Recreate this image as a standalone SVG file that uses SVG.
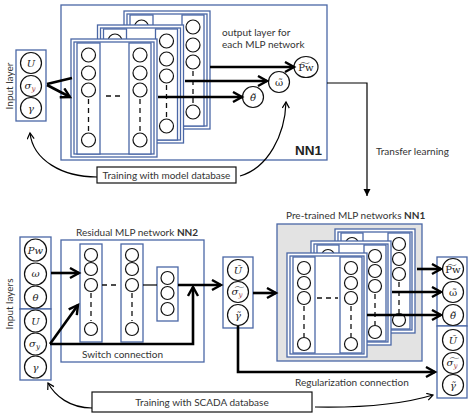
<svg xmlns="http://www.w3.org/2000/svg" xmlns:xlink="http://www.w3.org/1999/xlink" width="474" height="417" viewBox="0 0 474 417">
<style>
.bx{fill:#fff;stroke:#4a67a6;stroke-width:1.3}
.gr{fill:#e3e3e3;stroke:#4a67a6;stroke-width:1.3}
.nd{fill:#fff;stroke:#111;stroke-width:1.2}
.dl{stroke:#111;stroke-width:1.3;stroke-dasharray:5,4;fill:none}
.th{stroke:#000;stroke-width:2.6;fill:none}
.tn{stroke:#000;stroke-width:1.2;fill:none}
.lb{font-family:Lato,"Liberation Sans",sans-serif;font-size:10px;fill:#333}
.mt{font-family:"DejaVu Serif","Liberation Serif",serif;font-size:10px;font-style:italic;fill:#222;text-anchor:middle}
.mu{font-family:"DejaVu Serif","Liberation Serif",serif;font-size:10px;fill:#222;text-anchor:middle}
</style>
<defs>
<marker id="ah" markerUnits="userSpaceOnUse" markerWidth="14" markerHeight="14" refX="10" refY="6" orient="auto">
<path d="M1,1 L10,6 L1,11" fill="none" stroke="#000" stroke-width="2.4"/>
</marker>
<marker id="as" markerUnits="userSpaceOnUse" markerWidth="10" markerHeight="10" refX="7" refY="4" orient="auto">
<path d="M1,0.5 L7,4 L1,7.5" fill="none" stroke="#000" stroke-width="1.2"/>
</marker>
<marker id="af" markerUnits="userSpaceOnUse" markerWidth="10" markerHeight="10" refX="7" refY="3.5" orient="auto">
<path d="M0,0 L7,3.5 L0,7 z" fill="#000"/>
</marker>
<g id="fT">
<rect class="bx" x="0" y="0" width="86" height="118"/>
<rect class="bx" x="3" y="3" width="80" height="112"/>
<rect class="bx" x="6" y="4" width="23" height="111"/>
<rect class="bx" x="58" y="4" width="22" height="111"/>
<circle class="nd" cx="17.5" cy="16" r="7"/><circle class="nd" cx="17.5" cy="34" r="7"/><circle class="nd" cx="17.5" cy="51" r="7"/><circle class="nd" cx="17.5" cy="101" r="7"/>
<line class="dl" x1="17.5" y1="60" x2="17.5" y2="93"/>
<circle class="nd" cx="69" cy="16" r="7"/><circle class="nd" cx="69" cy="34" r="7"/><circle class="nd" cx="69" cy="51" r="7"/><circle class="nd" cx="69" cy="101" r="7"/>
<line class="dl" x1="69" y1="60" x2="69" y2="93"/>
<line class="dl" x1="35" y1="57" x2="53" y2="57"/>
</g>
<g id="fB">
<rect class="bx" x="0" y="0" width="80" height="104"/>
<rect class="bx" x="3" y="3" width="74" height="98"/>
<rect class="bx" x="6" y="4" width="22" height="96"/>
<rect class="bx" x="53" y="4" width="22" height="96"/>
<circle class="nd" cx="17" cy="15" r="6.5"/><circle class="nd" cx="17" cy="30" r="6.5"/><circle class="nd" cx="17" cy="45" r="6.5"/><circle class="nd" cx="17" cy="91" r="6.5"/>
<line class="dl" x1="17" y1="53" x2="17" y2="84"/>
<circle class="nd" cx="64" cy="15" r="6.5"/><circle class="nd" cx="64" cy="30" r="6.5"/><circle class="nd" cx="64" cy="45" r="6.5"/><circle class="nd" cx="64" cy="91" r="6.5"/>
<line class="dl" x1="64" y1="53" x2="64" y2="84"/>
<line class="dl" x1="30" y1="45" x2="51" y2="45"/>
</g>
</defs>
<rect width="474" height="417" fill="#fff"/>

<g id="nn1-top">
<rect class="bx" x="61" y="5" width="266" height="155"/>
<use xlink:href="#fT" x="124" y="11"/>
<use xlink:href="#fT" x="97.5" y="25"/>
<use xlink:href="#fT" x="71" y="39"/>
<text class="lb" x="222" y="36">output layer for</text>
<text class="lb" x="222" y="48">each MLP network</text>
<text x="295" y="155" style="font-family:'Liberation Sans',sans-serif;font-size:13.5px;font-weight:bold;fill:#222">NN1</text>
</g>

<g id="input-top">
<rect class="bx" x="16" y="50" width="30" height="71"/>
<circle class="nd" cx="31" cy="63" r="10.5"/><circle class="nd" cx="31" cy="86" r="10.5"/><circle class="nd" cx="31" cy="108" r="10.5"/>
<text class="mt" x="31" y="67">U</text>
<text class="mt" x="30" y="89">σ<tspan font-size="7" dy="2" fill="#a04040">y</tspan></text>
<text class="mt" x="31" y="112">γ</text>
<text class="lb" transform="translate(13,86) rotate(-90)" text-anchor="middle">Input layer</text>
</g>

<g id="out-top">
<ellipse class="nd" cx="306" cy="67" rx="12" ry="10.5"/>
<text class="mu" x="306" y="71">P͠w</text>
<circle class="nd" cx="279" cy="82" r="10.5"/>
<text class="mu" x="279" y="86">ω̃</text>
<circle class="nd" cx="253" cy="97" r="10.5"/>
<text class="mt" x="253" y="101">θ̃</text>
</g>

<g id="train-top">
<rect x="97" y="167" width="139" height="16" fill="#fff" stroke="#111" stroke-width="1.2"/>
<text class="lb" x="166.5" y="179" text-anchor="middle">Training with model database</text>
</g>

<g id="transfer">
<text class="lb" x="376" y="155">Transfer learning</text>
</g>

<g id="input-bot">
<rect class="bx" x="20" y="237" width="31" height="72"/>
<rect class="bx" x="20" y="309" width="31" height="71"/>
<circle class="nd" cx="35.5" cy="250" r="11"/><circle class="nd" cx="35.5" cy="274" r="11"/><circle class="nd" cx="35.5" cy="297" r="11"/>
<circle class="nd" cx="35.5" cy="321" r="11"/><circle class="nd" cx="35.5" cy="344" r="11"/><circle class="nd" cx="35.5" cy="367" r="11"/>
<text class="mt" x="35.5" y="254">Pw</text>
<text class="mt" x="35.5" y="277">ω</text>
<text class="mt" x="35.5" y="301">θ</text>
<text class="mt" x="35.5" y="325">U</text>
<text class="mt" x="34.5" y="347">σ<tspan font-size="7" dy="2">y</tspan></text>
<text class="mt" x="35.5" y="371">γ</text>
<text class="lb" transform="translate(13,304) rotate(-90)" text-anchor="middle">Input layers</text>
</g>

<g id="nn2">
<text class="lb" x="76" y="236">Residual MLP network <tspan font-weight="bold">NN2</tspan></text>
<rect class="bx" x="61" y="240" width="143" height="122"/>
<rect class="bx" x="80" y="244" width="22" height="98"/>
<circle class="nd" cx="91" cy="255" r="6.5"/><circle class="nd" cx="91" cy="269" r="6.5"/><circle class="nd" cx="91" cy="285" r="6.5"/><circle class="nd" cx="91" cy="329" r="6.5"/>
<line class="dl" x1="91" y1="293" x2="91" y2="321"/>
<rect class="bx" x="121" y="244" width="22" height="98"/>
<circle class="nd" cx="132" cy="255" r="6.5"/><circle class="nd" cx="132" cy="269" r="6.5"/><circle class="nd" cx="132" cy="285" r="6.5"/><circle class="nd" cx="132" cy="329" r="6.5"/>
<line class="dl" x1="132" y1="293" x2="132" y2="321"/>
<line class="dl" x1="102" y1="285" x2="120" y2="285"/>
<rect class="bx" x="157" y="267" width="21" height="54"/>
<circle class="nd" cx="167.5" cy="278" r="6.5"/><circle class="nd" cx="167.5" cy="293" r="6.5"/><circle class="nd" cx="167.5" cy="309" r="6.5"/>
<text class="lb" x="82" y="358">Switch connection</text>
</g>

<g id="mid">
<rect class="bx" x="223" y="257" width="30" height="71"/>
<circle class="nd" cx="238" cy="270" r="10.5"/><circle class="nd" cx="238" cy="292" r="10.5"/><circle class="nd" cx="238" cy="315" r="10.5"/>
<text class="mt" x="238" y="274">Ũ</text>
<text class="mt" x="237" y="295">σ͠<tspan font-size="7" dy="2" fill="#a04040">y</tspan></text>
<text class="mt" x="238" y="319">γ̃</text>
</g>

<g id="nn1-bot">
<text class="lb" x="286" y="219">Pre-trained MLP networks <tspan font-weight="bold">NN1</tspan></text>
<rect class="gr" x="277" y="224" width="145" height="137"/>
<use xlink:href="#fB" x="335" y="229"/>
<use xlink:href="#fB" x="311" y="241"/>
<use xlink:href="#fB" x="287" y="253"/>
</g>

<g id="out-bot">
<rect class="bx" x="437" y="257" width="30" height="69"/>
<rect class="bx" x="437" y="326" width="30" height="72"/>
<circle class="nd" cx="453" cy="269" r="10.5"/><circle class="nd" cx="453" cy="292" r="10.5"/><circle class="nd" cx="453" cy="315" r="10.5"/>
<circle class="nd" cx="453" cy="340" r="10.5"/><circle class="nd" cx="453" cy="363" r="10.5"/><circle class="nd" cx="453" cy="385" r="10.5"/>
<text class="mu" x="453" y="273">P͠w</text>
<text class="mu" x="453" y="296">ω̃</text>
<text class="mt" x="453" y="319">θ̃</text>
<text class="mt" x="453" y="344">Ũ</text>
<text class="mt" x="452" y="366">σ͠<tspan font-size="7" dy="2" fill="#a04040">y</tspan></text>
<text class="mt" x="453" y="389">γ̃</text>
<text class="lb" x="295" y="386">Regularization connection</text>
</g>

<g id="train-bot">
<rect x="92" y="392" width="220" height="20" fill="#fff" stroke="#111" stroke-width="1.2"/>
<text class="lb" x="202" y="406" text-anchor="middle">Training with SCADA database</text>
</g>

<g id="connectors">
<line class="th" x1="47" y1="84" x2="72" y2="78"/>
<line class="th" x1="47" y1="85" x2="70" y2="97" marker-end="url(#ah)"/>
<line class="th" x1="210" y1="67" x2="294" y2="67" marker-end="url(#ah)"/>
<line class="th" x1="185" y1="81" x2="267" y2="81" marker-end="url(#ah)"/>
<line class="th" x1="158" y1="97" x2="242" y2="97" marker-end="url(#ah)"/>
<path class="tn" d="M97,177 C62,177 33,160 30,133" marker-end="url(#as)"/>
<path class="tn" d="M240,176 C268,168 285,135 286,102" marker-end="url(#as)"/>
<path class="tn" d="M327,83 L367,83 L367,196" marker-end="url(#af)"/>
<line class="th" x1="51" y1="273" x2="79" y2="273" marker-end="url(#ah)"/>
<line class="th" x1="50" y1="344" x2="78" y2="305" marker-end="url(#ah)"/>
<line class="tn" x1="143" y1="285" x2="157" y2="285"/>
<line class="th" x1="178" y1="285" x2="221" y2="285" marker-end="url(#ah)"/>
<path class="th" d="M50,344 L193,344 L193,287" marker-end="url(#ah)"/>
<line class="th" x1="253" y1="293" x2="276" y2="293" marker-end="url(#ah)"/>
<line class="th" x1="417" y1="269" x2="441" y2="269" marker-end="url(#ah)"/>
<line class="th" x1="392" y1="292" x2="441" y2="292" marker-end="url(#ah)"/>
<line class="th" x1="367" y1="315" x2="441" y2="315" marker-end="url(#ah)"/>
<path class="th" d="M238,326 L238,372 L435,372" marker-end="url(#ah)"/>
<path class="tn" d="M92,408 C70,408 55,396 48,383" marker-end="url(#as)"/>
<path class="tn" d="M315,407 C370,408 410,402 433,395" marker-end="url(#as)"/>
</g>
</svg>
